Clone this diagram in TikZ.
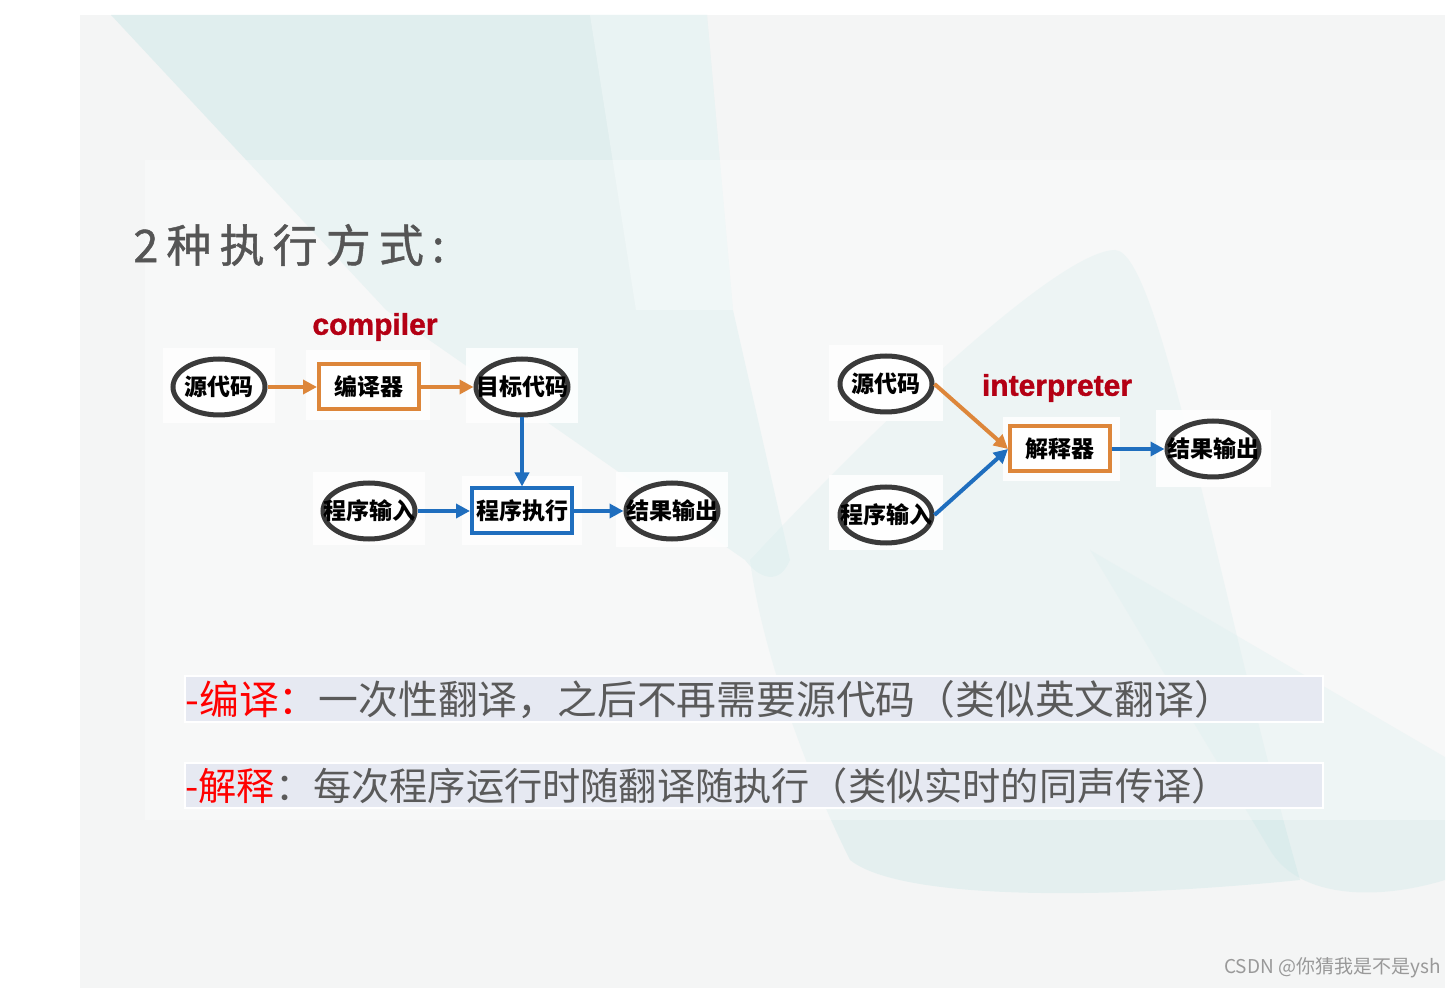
\documentclass[tikz,border=0pt]{standalone}
\usepackage{fontspec}
\setmainfont{Liberation Sans}
\newfontfamily\cjk{Noto Sans CJK SC}
\newfontfamily\cjktitle[LetterSpace=18, FakeBold=1]{Noto Sans CJK SC}
\newfontfamily\heavysans[FakeBold=1.2]{Liberation Sans Bold}
\usetikzlibrary{shapes.geometric,arrows.meta}
\definecolor{slidebg}{RGB}{244,245,245}
\definecolor{tealshade}{RGB}{200,230,230}
\definecolor{ovalgray}{RGB}{58,58,58}
\definecolor{boxorange}{RGB}{221,134,58}
\definecolor{flowblue}{RGB}{31,110,190}
\definecolor{labelred}{RGB}{180,0,20}
\definecolor{titlegray}{RGB}{85,85,85}
\definecolor{notegray}{RGB}{90,90,90}
\definecolor{notebox}{RGB}{230,233,242}
\newcommand{\olabel}[1]{\makebox[0pt]{#1}}

\begin{document}
\begin{tikzpicture}[x=0.5pt, y=-0.5pt,
    oval/.style={ellipse, draw=ovalgray, line width=2.5pt, fill=white,
        minimum width=46pt, minimum height=28pt, inner sep=0pt,
        font=\cjk\bfseries\fontsize{11.5}{12}\selectfont},
    orangebox/.style={rectangle, draw=boxorange, line width=2pt, fill=white,
        minimum width=50pt, minimum height=22.5pt, inner sep=0pt,
        font=\cjk\bfseries\fontsize{11.5}{12}\selectfont},
    bluebox/.style={orangebox, draw=flowblue},
    orangearrow/.style={draw=boxorange, line width=2pt, -{Triangle[length=7pt, width=7pt]}},
    bluearrow/.style={draw=flowblue, line width=2pt, -{Triangle[length=7pt, width=7pt]}},
    backing/.style={fill=white, opacity=0.85},
    flowlabel/.style={text=labelred, font=\heavysans\fontsize{15}{16}\selectfont},
    noteline/.style={anchor=west, inner sep=0pt, text=notegray}
]
    \useasboundingbox (0,0) rectangle (1456,988);

    % Hintergrund der Folie
    \fill[white] (0,0) rectangle (1456,988);
    \fill[slidebg] (80,15) rectangle (1445,988);
    \fill[tealshade, opacity=0.45] (111,15) -- (707,15) -- (733,310) -- (790,560)
        .. controls (780,585) and (760,580) .. (745,560) -- (386,310) -- cycle;
    \fill[white, opacity=0.3] (590,15) -- (707,15) -- (733,310) -- (636,310) -- cycle;
    \fill[tealshade, opacity=0.35] (750,560) .. controls (880,420) and (1060,250) .. (1115,250)
        .. controls (1160,250) and (1220,600) .. (1300,880)
        .. controls (1100,900) and (900,900) .. (850,860)
        .. controls (800,760) and (760,640) .. cycle;
    \fill[tealshade, opacity=0.3] (1090,550) -- (1445,757) -- (1445,880)
        .. controls (1380,900) and (1300,900) .. (1270,850) -- cycle;
    \fill[white, opacity=0.35] (145,160) rectangle (1445,820);

    % Weisse Unterlagen der Bausteine
    \foreach \xa/\ya/\xb/\yb in {163/348/275/423, 306/350/430/420, 466/348/578/423,
        313/472/425/545, 462/476/582/545, 616/472/728/547,
        829/345/943/421, 829/475/943/550, 1003/417/1120/481, 1156/410/1271/487} {
        \fill[backing] (\xa,\ya) rectangle (\xb,\yb);
    }

    % Titel
    \node[anchor=west, inner sep=0pt, text=titlegray,
        font=\cjktitle\fontsize{22.5}{24}\selectfont] (title) at (133,245) {2种执行方式:};

    % Kompilieren
    \node[flowlabel] (compiler) at (375,327) {compiler};
    \node[oval] (src) at (219,387) {\olabel{源代码}};
    \node[orangebox] (comp) at (369,387) {编译器};
    \node[oval] (obj) at (522,387) {\olabel{目标代码}};
    \node[oval] (in) at (369,511) {\olabel{程序输入}};
    \node[bluebox] (run) at (522,511) {程序执行};
    \node[oval] (out) at (672,511) {\olabel{结果输出}};

    \draw[orangearrow] (src) -- (comp);
    \draw[orangearrow] (comp) -- (obj);
    \draw[bluearrow] (obj) -- (run);
    \draw[bluearrow] (in) -- (run);
    \draw[bluearrow] (run) -- (out);

    % Interpretieren
    \node[flowlabel] (interpreter) at (1057,388) {interpreter};
    \node[oval] (src2) at (886,384) {\olabel{源代码}};
    \node[oval] (in2) at (886,515) {\olabel{程序输入}};
    \node[orangebox] (interp) at (1060,449) {解释器};
    \node[oval] (out2) at (1213,449) {\olabel{结果输出}};

    \draw[orangearrow] (src2.east) -- (interp.west);
    \draw[bluearrow] (in2.east) -- (interp.west);
    \draw[bluearrow] (interp) -- (out2);

    % Erklaerungen
    \draw[white, line width=1pt, fill=notebox] (185,676) rectangle (1323,722);
    \draw[white, line width=1pt, fill=notebox] (185,763) rectangle (1323,808);
    \node[noteline, font=\cjk\fontsize{19.9}{20}\selectfont] (note1) at (185,700)
        {\textcolor{red}{-编译：}一次性翻译，之后不再需要源代码（类似英文翻译）};
    \node[noteline, font=\cjk\fontsize{19.1}{20}\selectfont] (note2) at (185,786)
        {\textcolor{red}{-解释}：每次程序运行时随翻译随执行（类似实时的同声传译）};

    % Wasserzeichen
    \node[anchor=east, inner sep=0pt, text=gray!80, font=\cjk\fontsize{9.5}{10}\selectfont]
        (mark) at (1441,968) {CSDN @你猜我是不是ysh};
\end{tikzpicture}
\end{document}
